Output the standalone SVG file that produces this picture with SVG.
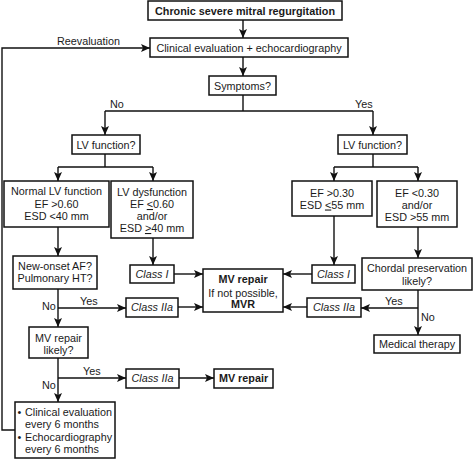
<svg xmlns="http://www.w3.org/2000/svg" width="474" height="467" viewBox="0 0 474 467">
<defs>
<marker id="ah" markerUnits="userSpaceOnUse" markerWidth="10" markerHeight="9" refX="9" refY="4" orient="auto">
<path d="M0,0 L9,4 L0,8 L2,4 z" fill="#111"/>
</marker>
<style>
rect{fill:#fff;stroke:#111;stroke-width:1.5}
text{font-family:"Liberation Sans",Arial,sans-serif;font-size:10.8px;fill:#1a1a1a;text-anchor:middle}
.b{font-weight:bold}
.i{font-style:italic}
.l{text-anchor:start}
#connectors path{fill:none;stroke:#111;stroke-width:1.4}
.arr{marker-end:url(#ah)}
</style>
</defs>
<rect x="0" y="0" width="474" height="467" style="fill:#fff;stroke:none"/>
<g id="connectors">
<path class="arr" d="M243,20 V38"/>
<path class="arr" d="M243,57 V76"/>
<path d="M243,95 V111 M105,111 H373"/>
<path class="arr" d="M105,111 V135"/>
<path class="arr" d="M373,111 V135"/>
<path d="M105,154 V167 M58,167 H153"/>
<path class="arr" d="M58,167 V181"/>
<path class="arr" d="M153,167 V181"/>
<path d="M373,154 V167 M334,167 H418"/>
<path class="arr" d="M334,167 V181"/>
<path class="arr" d="M418,167 V181"/>
<path class="arr" d="M58,227 V256"/>
<path class="arr" d="M153,238 V265"/>
<path class="arr" d="M174,274 H203"/>
<path class="arr" d="M58,289 V327"/>
<path class="arr" d="M58,308 H126"/>
<path class="arr" d="M178,307 H203"/>
<path class="arr" d="M334,216 V265"/>
<path class="arr" d="M312,274 H283"/>
<path class="arr" d="M418,227 V258"/>
<path class="arr" d="M418,290 V335"/>
<path class="arr" d="M418,308 H361"/>
<path class="arr" d="M307,307 H283"/>
<path class="arr" d="M58,358 V402"/>
<path class="arr" d="M58,378 H126"/>
<path class="arr" d="M179,378 H214"/>
<path class="arr" d="M15,430 H2 V48 H150"/>
<text class="l" x="57" y="44.5">Reevaluation</text>
<text class="l" x="110" y="108">No</text>
<text class="l" x="355" y="108">Yes</text>
<text class="l" x="80" y="304.5">Yes</text>
<text class="l" x="42" y="310">No</text>
<text class="l" x="83" y="375">Yes</text>
<text class="l" x="42" y="388.5">No</text>
<text class="l" x="385" y="305">Yes</text>
<text class="l" x="421" y="321">No</text>
</g>
<g id="title"><rect x="148" y="1" width="194" height="19"/><text class="b" x="245" y="14.5">Chronic severe mitral regurgitation</text></g>
<g id="clinical"><rect x="150" y="38" width="198" height="19"/><text x="249" y="51.5">Clinical evaluation + echocardiography</text></g>
<g id="symptoms"><rect x="209" y="76" width="67" height="19"/><text x="242.5" y="89.5">Symptoms?</text></g>
<g id="lvfuncL"><rect x="72" y="135" width="68" height="19"/><text x="106" y="148.5">LV function?</text></g>
<g id="normalLV"><rect x="4" y="181" width="105" height="46"/><text x="56.5" y="195">Normal LV function</text><text x="56.5" y="208">EF &gt;0.60</text><text x="56.5" y="220">ESD &lt;40 mm</text></g>
<g id="lvdys"><rect x="111" y="181" width="82" height="57"/><text x="152" y="196">LV dysfunction</text><text x="152" y="208">EF <tspan text-decoration="underline">&lt;</tspan>0.60</text><text x="152" y="220">and/or</text><text x="152" y="232">ESD <tspan text-decoration="underline">&gt;</tspan>40 mm</text></g>
<g id="lvfuncR"><rect x="338" y="135" width="69" height="19"/><text x="372.5" y="148.5">LV function?</text></g>
<g id="efgt"><rect x="292" y="181" width="80" height="35"/><text x="332" y="197">EF &gt;0.30</text><text x="332" y="208.5">ESD <tspan text-decoration="underline">&lt;</tspan>55 mm</text></g>
<g id="eflt"><rect x="377" y="181" width="80" height="46"/><text x="417" y="197">EF &lt;0.30</text><text x="417" y="209">and/or</text><text x="417" y="221">ESD &gt;55 mm</text></g>
<g id="newonset"><rect x="13" y="256" width="84" height="33"/><text x="55" y="270">New-onset AF?</text><text x="55" y="282">Pulmonary HT?</text></g>
<g id="classIL"><rect x="130" y="265" width="44" height="18"/><text class="i" x="152" y="278">Class I</text></g>
<g id="mvr"><rect x="203" y="269" width="80" height="43"/><text class="b" x="243" y="283">MV repair</text><text x="243" y="296.5">If not possible,</text><text class="b" x="243" y="308">MVR</text></g>
<g id="classIR"><rect x="312" y="265" width="43" height="18"/><text class="i" x="333.5" y="278">Class I</text></g>
<g id="chordal"><rect x="362" y="258" width="110" height="32"/><text x="417" y="272">Chordal preservation</text><text x="417" y="284.5">likely?</text></g>
<g id="classIIaL1"><rect x="126" y="298" width="52" height="19"/><text class="i" x="152" y="311">Class IIa</text></g>
<g id="classIIaR"><rect x="307" y="298" width="54" height="19"/><text class="i" x="334" y="311">Class IIa</text></g>
<g id="medical"><rect x="374" y="335" width="86" height="18"/><text x="417" y="348">Medical therapy</text></g>
<g id="mvlikely"><rect x="29" y="327" width="59" height="31"/><text x="58.5" y="341.5">MV repair</text><text x="58.5" y="353.5">likely?</text></g>
<g id="classIIaL2"><rect x="126" y="369" width="53" height="19"/><text class="i" x="152.5" y="382">Class IIa</text></g>
<g id="mvrepair2"><rect x="214" y="369" width="59" height="19"/><text class="b" x="243.5" y="382">MV repair</text></g>
<g id="followup"><rect x="15" y="402" width="100" height="56"/><text class="l" x="17.5" y="416">•</text><text class="l" x="25" y="416">Clinical evaluation</text><text class="l" x="25" y="428">every 6 months</text><text class="l" x="17.5" y="441">•</text><text class="l" x="25" y="441">Echocardiography</text><text class="l" x="25" y="453">every 6 months</text></g>
</svg>
